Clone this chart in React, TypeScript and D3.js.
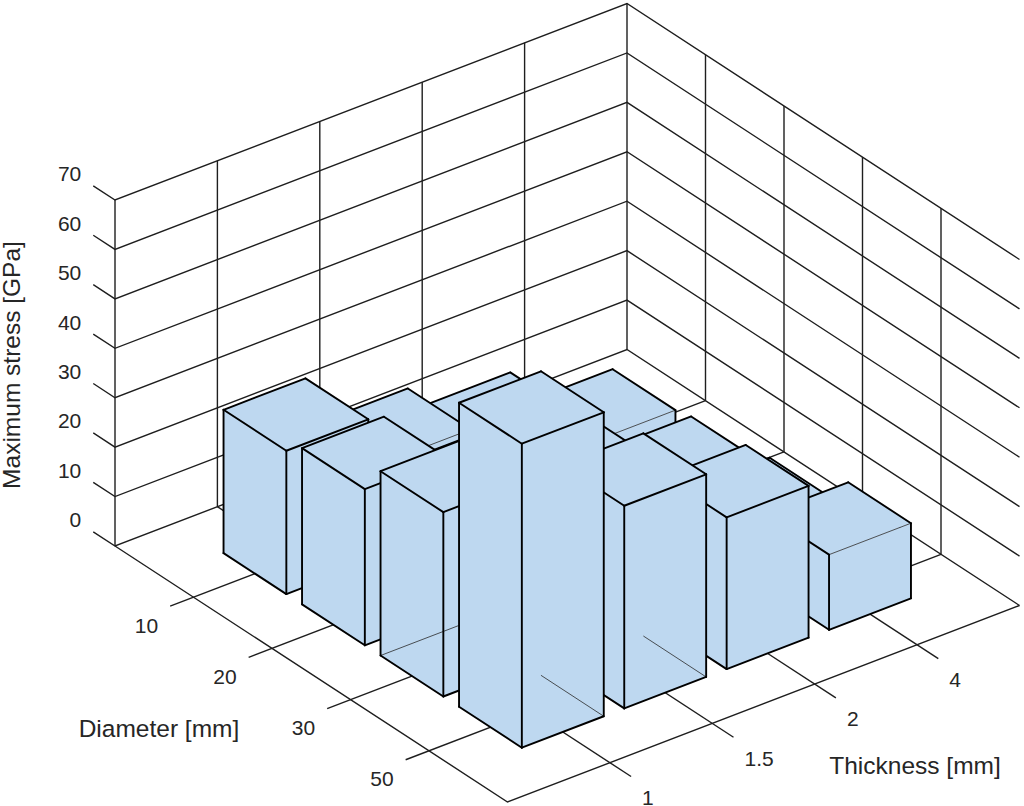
import { useMemo } from 'react';
import * as d3 from 'd3';

// Categories
const diameterLabels = ['10', '20', '30', '50'];
const thicknessLabels = ['1', '1.5', '2', '4'];

// Maximum stress [GPa], one row per diameter, columns follow thicknessLabels
const stressD10 = [29, 19, 14.3, 7];
const stressD20 = [31.6, 21, 15.7, 7.8];
const stressD30 = [37.3, 25, 13, 9.8];
const stressD50 = [61.5, 41, 30.7, 15.2];

const zTicks = [0, 10, 20, 30, 40, 50, 60, 70];

type P3 = [number, number, number];
type P2 = [number, number];

const W = 1024;
const H = 806;

// screen corners of the floor (diameter d runs L->F, thickness t runs L->B)
const L: P2 = [115, 546];
const F: P2 = [507.5, 802];
const B: P2 = [627, 349.5];

const dScale = d3.scaleLinear().domain([0, 5]).range([0, 1]);
const tScale = d3.scaleLinear().domain([0, 5]).range([0, 1]);
const zScale = d3.scaleLinear().domain([0, 70]).range([0, 346]);
const dPos = d3.scalePoint<string>().domain(diameterLabels).range([1, 4]);
const tPos = d3.scalePoint<string>().domain(thicknessLabels).range([1, 4]);

function proj([d, t, z]: P3): P2 {
    const fd = dScale(d);
    const ft = tScale(t);
    return [
        L[0] + fd * (F[0] - L[0]) + ft * (B[0] - L[0]),
        L[1] + fd * (F[1] - L[1]) + ft * (B[1] - L[1]) - zScale(z),
    ];
}

const line = d3.line<P2>();
const path3 = (pts: P3[], closed = false) => (line(pts.map(proj)) || '') + (closed ? 'Z' : '');

// edges that the original draws thin (render quirks)
const thinEdges: Record<string, string[]> = {
    '0-1': ['topFront'],
    '0-3': ['topFront'],
    '3-3': ['topFront'],
};
const ghostEdges: Record<string, string[]> = {
    '2-0': ['hBack'],
    '3-0': ['hRight'],
    '3-1': ['hRight'],
};

const FONT = '"Liberation Sans", Arial, Helvetica, sans-serif';
const TEXT = '#262626';
const FILL = '#bed8f0';
const HALF = 0.4;
const TICK_D = 0.228;
const TICK_T = 0.27;
const TICK_Z = 0.277;

export default function App() {
    const bars = useMemo(() => {
        const rows = [stressD10, stressD20, stressD30, stressD50];
        const list: { key: string; d: number; t: number; h: number; depth: number }[] = [];
        rows.forEach((row, i) => {
            row.forEach((h, j) => {
                const d = dPos(diameterLabels[i])!;
                const t = tPos(thicknessLabels[j])!;
                const dv = (F[0] - L[0]) / 5;
                const tv = (B[0] - L[0]) / 5;
                list.push({ key: `${i}-${j}`, d, t, h, depth: tv * d - dv * t });
            });
        });
        return list.sort((a, b) => a.depth - b.depth);
    }, []);

    const gridStyle = { stroke: '#1e1e1e', strokeWidth: 1.4, fill: 'none' };

    return (
        <svg width={W} height={H} style={{ position: 'absolute', left: 0, top: 0, background: '#fff' }}>
            <g>
                {/* walls: z grid with tick */}
                {zTicks.map(z => (
                    <path key={`z${z}`} d={path3([[-TICK_Z, 0, z], [0, 0, z], [0, 5, z], [5, 5, z]])} {...gridStyle} />
                ))}
                {[0, ...thicknessLabels.map(l => tPos(l)!), 5].map(t => (
                    <path key={`lw${t}`} d={path3([[0, t, 0], [0, t, 70]])} {...gridStyle} />
                ))}
                {diameterLabels.map(l => {
                    const d = dPos(l)!;
                    return <path key={`rw${l}`} d={path3([[d, 5, 0], [d, 5, 70]])} {...gridStyle} />;
                })}
                {/* floor */}
                {diameterLabels.map(l => {
                    const d = dPos(l)!;
                    return <path key={`fd${l}`} d={path3([[d, -TICK_D, 0], [d, 5, 0]])} {...gridStyle} />;
                })}
                {thicknessLabels.map(l => {
                    const t = tPos(l)!;
                    return <path key={`ft${l}`} d={path3([[0, t, 0], [5 + TICK_T, t, 0]])} {...gridStyle} />;
                })}
                <path d={path3([[0, 0, 0], [5, 0, 0], [5, 5, 0]])} {...gridStyle} />
            </g>

            <g>
                {bars.map(b => {
                    const d0 = b.d - HALF, d1 = b.d + HALF, t0 = b.t - HALF, t1 = b.t + HALF, h = b.h;
                    const edges: Record<string, P3[]> = {
                        topBack1: [[d0, t0, h], [d0, t1, h]],
                        topBack2: [[d0, t1, h], [d1, t1, h]],
                        topFront: [[d1, t0, h], [d1, t1, h]],
                        topLeft: [[d0, t0, h], [d1, t0, h]],
                        vLeft: [[d0, t0, 0], [d0, t0, h]],
                        vMid: [[d1, t0, 0], [d1, t0, h]],
                        vRight: [[d1, t1, 0], [d1, t1, h]],
                        bLeft: [[d0, t0, 0], [d1, t0, 0]],
                        bFront: [[d1, t0, 0], [d1, t1, 0]],
                    };
                    const hidden: Record<string, P3[]> = {
                        hBack: [[d0, t0, 0], [d0, t1, 0]],
                        hRight: [[d0, t1, 0], [d1, t1, 0]],
                    };
                    const thin = thinEdges[b.key] || [];
                    const ghosts = ghostEdges[b.key] || [];
                    return (
                        <g key={b.key}>
                            <path d={path3([[d0, t0, 0], [d1, t0, 0], [d1, t0, h], [d0, t0, h]], true)} fill={FILL} />
                            <path d={path3([[d1, t0, 0], [d1, t1, 0], [d1, t1, h], [d1, t0, h]], true)} fill={FILL} />
                            <path d={path3([[d0, t0, h], [d1, t0, h], [d1, t1, h], [d0, t1, h]], true)} fill={FILL} />
                            {ghosts.map(k => (
                                <path key={k} d={path3(hidden[k])} stroke="#2a2a2a" strokeWidth={0.8} fill="none" />
                            ))}
                            {Object.entries(edges).map(([k, pts]) => (
                                <path
                                    key={k}
                                    d={path3(pts)}
                                    stroke={thin.includes(k) ? '#2a2a2a' : '#000'}
                                    strokeWidth={thin.includes(k) ? 0.8 : 1.9}
                                    strokeLinecap="round"
                                    fill="none"
                                />
                            ))}
                        </g>
                    );
                })}
            </g>

            <g fontFamily={FONT} fill={TEXT} fontSize={21}>
                {zTicks.map(z => {
                    const [x, y] = proj([-TICK_Z, 0, z]);
                    return (
                        <text key={`zl${z}`} x={x - 12} y={y - 4.5} textAnchor="end">{z}</text>
                    );
                })}
                {diameterLabels.map(l => {
                    const [x, y] = proj([dPos(l)!, -TICK_D, 0]);
                    return (
                        <text key={`dl${l}`} x={x - 12} y={y + 26.5} textAnchor="end">{l}</text>
                    );
                })}
                {thicknessLabels.map(l => {
                    const [x, y] = proj([5 + TICK_T, tPos(l)!, 0]);
                    return (
                        <text key={`tl${l}`} x={x + 11} y={y + 28.5} textAnchor="start">{l}</text>
                    );
                })}
            </g>

            <g fontFamily={FONT} fill={TEXT} fontSize={24.5}>
                <text transform="translate(20,365) rotate(-90)" textAnchor="middle">Maximum stress [GPa]</text>
                <text x={159} y={737} textAnchor="middle">Diameter [mm]</text>
                <text x={915} y={774} textAnchor="middle">Thickness [mm]</text>
            </g>
        </svg>
    );
}
